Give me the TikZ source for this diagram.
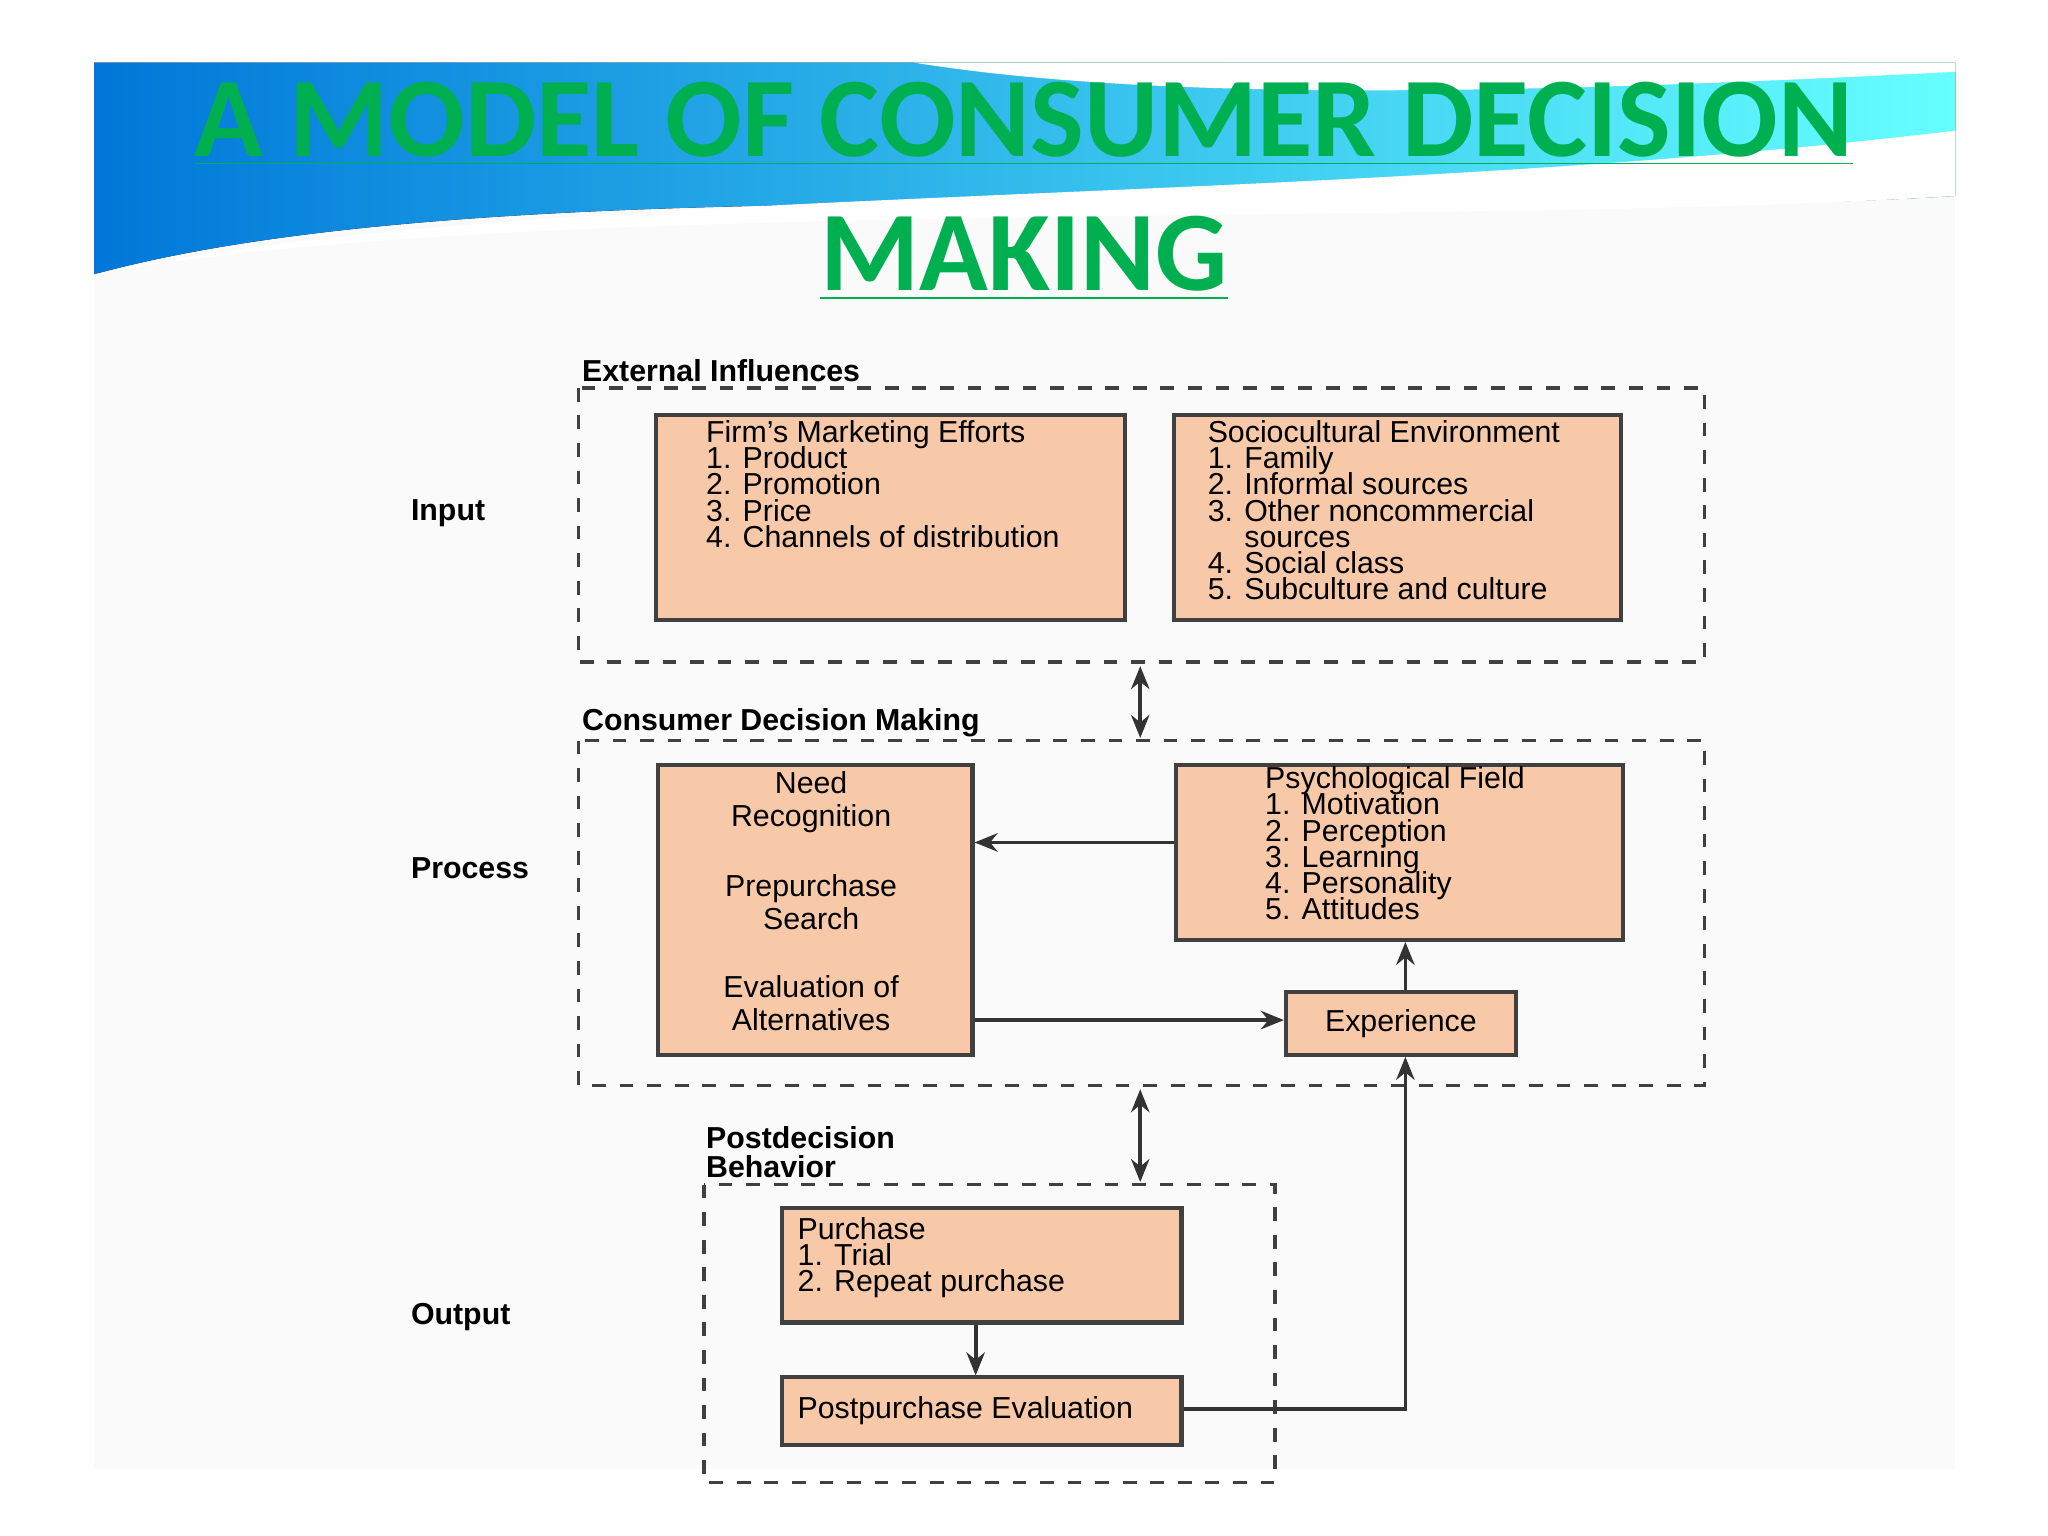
\documentclass[tikz,border=0pt]{standalone}
\usepackage{fontspec}
\setmainfont{Liberation Sans}
\newfontfamily\titlefont{Carlito}
\usetikzlibrary{arrows.meta}
\definecolor{peach}{HTML}{F8C9A8}
\definecolor{tgreen}{HTML}{00B050}
\begin{document}
\begin{tikzpicture}[x=0.01cm,y=-0.01cm,
  box/.style={draw=black!75,line width=0.9pt,fill=peach},
  dbox/.style={draw=black!75,dashed,line width=0.8pt},
  txt/.style={font=\fontsize{6.6}{7}\selectfont,inner sep=0pt,anchor=west,text height=4.8pt,text depth=1.4pt},
  ctxt/.style={font=\fontsize{6.6}{7.2}\selectfont,inner sep=0pt,align=center},
  lbl/.style={font=\fontsize{6.6}{7.2}\selectfont\bfseries,inner sep=0pt,anchor=west,align=left},
  arr/.style={-{Stealth[length=5pt,width=4pt]},line width=0.8pt,draw=black!80},
  darr/.style={{Stealth[length=5pt,width=4pt]}-{Stealth[length=5pt,width=4pt]},line width=0.8pt,draw=black!80}]
\useasboundingbox (0,0) rectangle (1568,1176);
\fill[white] (0,0) rectangle (1568,1176);
\fill[black!2] (72,48) rectangle (1497,1125);
% header swoosh
\fill[left color=blue!45!cyan!85!black, right color=cyan!60] (72,48) -- (1497,48) -- (1497,150) .. controls (1100,175) and (400,120) .. (72,210) -- cycle;
\fill[white] (72,210) .. controls (400,140) and (1000,160) .. (1497,100) -- (1497,150) .. controls (1100,175) and (400,150) .. (72,210) -- cycle;
\fill[white] (700,48) .. controls (900,80) and (1200,70) .. (1497,55) -- (1497,48) -- cycle;
% title
\node[font=\titlefont\bfseries\fontsize{24.7}{28}\selectfont,text=tgreen,inner sep=0pt] (t1) at (784,95) {\underline{A MODEL OF CONSUMER DECISION}};
\node[font=\titlefont\bfseries\fontsize{24.7}{28}\selectfont,text=tgreen,inner sep=0pt] (t2) at (784,198) {\underline{MAKING}};
% side labels
\node[lbl] (in) at (314,393) {Input};
\node[lbl] (pr) at (314,665) {Process};
\node[lbl] (out) at (314,1008) {Output};
% external
\node[lbl] (el) at (445,284) {External Influences};
\draw[dbox] (443,297) rectangle (1305,507);
\draw[box] (502,318) rectangle (861,475);
\node[txt] at (540,333) {Firm's Marketing Efforts};
\node[txt] at (540,353) {1. Product};
\node[txt] at (540,373) {2. Promotion};
\node[txt] at (540,393) {3. Price};
\node[txt] at (540,413) {4. Channels of distribution};
\draw[box] (899,318) rectangle (1241,475);
\node[txt] at (924,333) {Sociocultural Environment};
\node[txt] at (924,353) {1. Family};
\node[txt] at (924,373) {2. Informal sources};
\node[txt] at (924,393) {3. Other noncommercial};
\node[txt] at (952,413) {sources};
\node[txt] at (924,433) {4. Social class};
\node[txt] at (924,453) {5. Subculture and culture};
\coordinate (a1) at (873,510); \coordinate (a2) at (873,565);
\draw[darr] (a1) -- (a2);
% process
\node[lbl] (cl) at (445,553) {Consumer Decision Making};
\draw[dbox] (443,567) rectangle (1305,831);
\node[box,minimum width=241*0.01cm,minimum height=222*0.01cm,anchor=north west] (need) at (502,584) {};
\node[ctxt] at (621,614) {Need\\Recognition};
\node[ctxt] at (621,691) {Prepurchase\\Search};
\node[ctxt] at (621,768) {Evaluation of\\Alternatives};
\node[box,minimum width=342*0.01cm,minimum height=134*0.01cm,anchor=north west] (psy) at (899,584) {};
\node[txt] at (968,598) {Psychological Field};
\node[txt] at (968,618) {1. Motivation};
\node[txt] at (968,638) {2. Perception};
\node[txt] at (968,658) {3. Learning};
\node[txt] at (968,678) {4. Personality};
\node[txt] at (968,698) {5. Attitudes};
\node[box,minimum width=176*0.01cm,minimum height=48*0.01cm,anchor=north west,font=\fontsize{6.6}{7}\selectfont] (exp) at (983,758) {Experience};
\draw[arr] (psy.west |- 0,645) -- (need.east |- 0,645);
\draw[arr] (need.east |- 0,781) -- (exp.west |- 0,781);
\draw[arr] (exp.north -| 1076,0) -- (psy.south -| 1076,0);
\coordinate (b1) at (873,834); \coordinate (b2) at (873,905);
\draw[darr] (b1) -- (b2);
% output
\node[lbl] (pl) at (540,882) {Postdecision\\[-1pt]Behavior};
\draw[dbox] (539,907) rectangle (976,1135);
\node[box,minimum width=306*0.01cm,minimum height=88*0.01cm,anchor=north west] (pur) at (597,923) {};
\node[txt] at (610,943) {Purchase};
\node[txt] at (610,963) {1. Trial};
\node[txt] at (610,983) {2. Repeat purchase};
\node[box,minimum width=306*0.01cm,minimum height=52*0.01cm,anchor=north west] (post) at (597,1053) {};
\node[txt] at (610,1080) {Postpurchase Evaluation};
\draw[arr] (pur.south -| 747,0) -- (post.north -| 747,0);
\coordinate (c1) at (1076,1079);
\draw[arr] (post.east |- c1) -- (c1) -- (exp.south -| c1);
\end{tikzpicture}
\end{document}
